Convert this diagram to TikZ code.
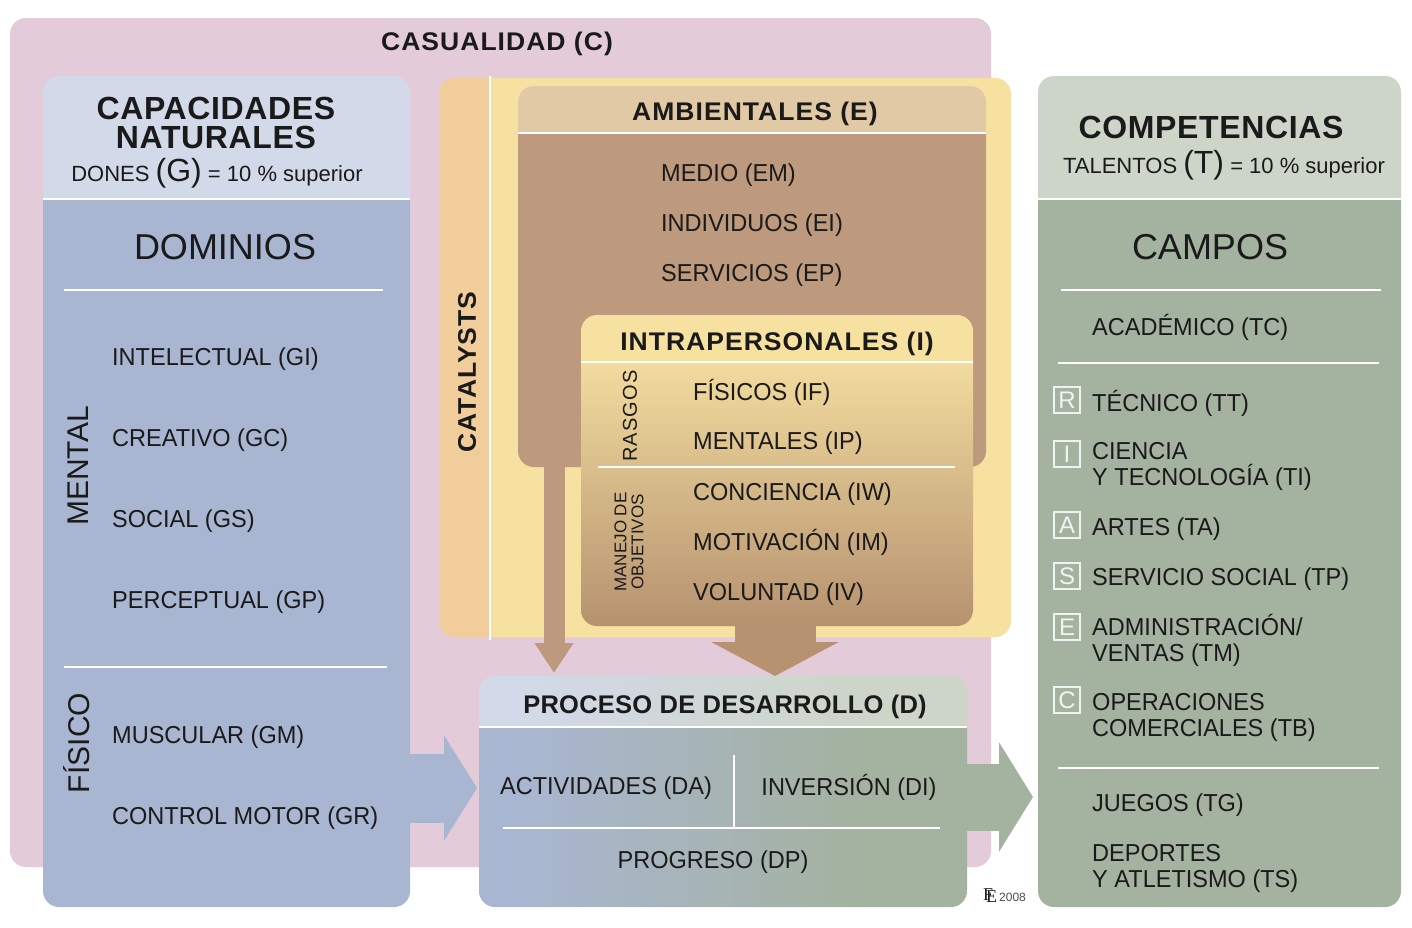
\documentclass[tikz,border=0pt]{standalone}
\usepackage{fontspec}
\setmainfont{Liberation Sans}
\newfontfamily\narrowfont[FakeStretch=0.96]{Liberation Sans}
\newfontfamily\markfont{Liberation Serif}
\usetikzlibrary{arrows.meta}
\definecolor{cpink}{RGB}{227,203,217}
\definecolor{cbluelt}{RGB}{210,217,233}
\definecolor{cblue}{RGB}{169,182,209}
\definecolor{cgreenlt}{RGB}{205,213,200}
\definecolor{cgreen}{RGB}{164,178,160}
\definecolor{cyellow}{RGB}{246,225,161}
\definecolor{corange}{RGB}{240,205,154}
\definecolor{ctanlt}{RGB}{226,201,166}
\definecolor{ctan}{RGB}{189,153,125}
\definecolor{ctandk}{RGB}{182,146,112}
\definecolor{cink}{RGB}{26,26,26}
\pgfdeclarehorizontalshading{prochead}{100bp}{color(0bp)=(cbluelt);color(29bp)=(cbluelt);color(64bp)=(cgreenlt);color(100bp)=(cgreenlt)}
\pgfdeclarehorizontalshading{procbody}{100bp}{color(0bp)=(cblue);color(29bp)=(cblue);color(64bp)=(cgreen);color(100bp)=(cgreen)}
\tikzset{
  panel/.style={rounded corners=16pt,minimum width=#1,inner sep=0pt,outer sep=0pt},
  rule/.style={draw=white,line width=2.8pt},
  headtext/.style={font=\fontsize{25.5}{26}\selectfont\bfseries\addfontfeatures{FakeStretch=1.04,LetterSpace=4},text=cink,inner sep=0pt},
  bigtext/.style={font=\fontsize{32}{29}\selectfont\bfseries\addfontfeatures{LetterSpace=2},text=cink,inner sep=0pt,align=center},
  titletext/.style={font=\fontsize{36}{36}\selectfont,text=cink,inner sep=0pt},
  subtext/.style={font=\fontsize{22}{24}\selectfont,text=cink,inner sep=0pt},
  item/.style={anchor=west,align=left,yshift=-2pt,font=\narrowfont\fontsize{24.5}{26}\selectfont,text=cink,inner sep=0pt},
  sideitem/.style={font=\fontsize{30}{30}\selectfont,text=cink,inner sep=0pt,rotate=90},
  letterbox/.style={draw=white!85!cgreen,line width=1.6pt,minimum size=26pt,inner sep=0pt,text=white!85!cgreen,font=\fontsize{24}{24}\selectfont},
  bigarrow/.style={line width=#1,line cap=butt}
}
\newcommand{\bigG}[1]{{\fontsize{32}{24}\selectfont #1}}
\begin{document}
\begin{tikzpicture}[x=1pt,y=-1pt]
\useasboundingbox (0,0) rectangle (1412,927);
% background
\node[panel=981pt,minimum height=849pt,fill=cpink] (casual) at (500.5,442.5) {};
\node[headtext] (casualtxt) at (497,43.5) {CASUALIDAD (C)};
% catalysts
\node[panel=572pt,minimum height=559pt] (catal) at (725,357.5) {};
\fill[cyellow,rounded corners=16pt] (490,78) -- (1011,78) -- (1011,637) -- (490,637);
\fill[corange,rounded corners=16pt] (490,78) -- (439,78) -- (439,637) -- (490,637);
\coordinate (catalN) at (490,76);
\coordinate (catalS) at (490,640);
\draw[rule] (catalN) -- (catalS);
\node[headtext,rotate=90] (catalbl) at (467,372) {CATALYSTS};
% ambientales
\node[panel=468pt,minimum height=381pt] (amb) at (752,276.5) {};
\fill[ctanlt,rounded corners=16pt] (518,133) -- (518,86) -- (986,86) -- (986,133);
\fill[ctan,rounded corners=16pt] (518,133) -- (518,467) -- (986,467) -- (986,133);
\draw[rule] (amb.west |- 0,133) -- (amb.east |- 0,133);
\node[headtext] (ambtxt) at (755,113.5) {AMBIENTALES (E)};
\node[item] (em) at (661,173) {MEDIO (EM)};
\node[item] (ei) at (661,223) {INDIVIDUOS (EI)};
\node[item] (ep) at (661,273) {SERVICIOS (EP)};
% process and arrows into it
\node[panel=488pt,minimum height=231pt] (proc) at (723,791.5) {};
\path[shading=prochead,rounded corners=16pt] (479,727) -- (479,676) -- (967,676) -- (967,727);
\path[shading=procbody,rounded corners=16pt] (479,727) -- (479,907) -- (967,907) -- (967,727);
\draw[rule] (proc.west |- 0,727) -- (proc.east |- 0,727);
\node[headtext,font=\fontsize{25.5}{26}\selectfont\bfseries\addfontfeatures{LetterSpace=1}] (proctxt) at (725,706.5) {PROCESO DE DESARROLLO (D)};
\node[item,anchor=center] (da) at (606,786) {ACTIVIDADES (DA)};
\node[item,anchor=center] (di) at (849,785) {INVERSIÓN (DI)};
\node[item,anchor=center] (dp) at (713,860) {PROGRESO (DP)};
\coordinate (procsplit) at (734,755);
\coordinate (procA) at (503,828);
\coordinate (procB) at (940,828);
\draw[rule] (procA) -- (procB);
\draw[rule] (procsplit) -- (procsplit |- procA);
% intrapersonales
\node[panel=392pt,minimum height=311pt] (intra) at (777,470.5) {};
\fill[cyellow,rounded corners=16pt] (581,362) -- (581,315) -- (973,315) -- (973,362);
\shade[top color=cyellow!92!ctan,bottom color=ctandk,rounded corners=16pt] (581,362) -- (581,626) -- (973,626) -- (973,362);
\draw[rule] (intra.west |- 0,362) -- (intra.east |- 0,362);
\coordinate (traitA) at (598,467);
\coordinate (traitB) at (955,467);
\draw[rule] (traitA) -- (traitB);
\node[headtext] (intratxt) at (777,343.5) {INTRAPERSONALES (I)};
\node[font=\fontsize{20}{20}\selectfont\addfontfeatures{LetterSpace=6},text=cink,inner sep=0pt,rotate=90] (rasgos) at (630,416) {RASGOS};
\node[font=\fontsize{17}{17}\selectfont,text=cink,inner sep=0pt,rotate=90,align=center] (manejo) at (629,542) {MANEJO DE\\OBJETIVOS};
\node[item] (if) at (693,390) {FÍSICOS (IF)};
\node[item] (ip) at (693,441) {MENTALES (IP)};
\node[item] (iw) at (693,492) {CONCIENCIA (IW)};
\node[item] (im) at (693,540) {MOTIVACIÓN (IM)};
\node[item] (iv) at (693,592) {VOLUNTAD (IV)};
\coordinate (ambdrop) at (554,467);
\draw[bigarrow=21pt,ctan,-{Triangle[length=30pt,width=37pt]},shorten >=3pt] (ambdrop) -- (ambdrop |- proc.north);
\draw[bigarrow=81pt,ctandk,-{Triangle[length=34pt,width=126pt]}] (intra.south -| 775,0) -- (proc.north -| 775,0);
% natural abilities
\node[panel=367pt,minimum height=831pt] (dones) at (226.5,491.5) {};
\fill[cbluelt,rounded corners=16pt] (43,198) -- (43,76) -- (410,76) -- (410,198);
\fill[cblue,rounded corners=16pt] (43,198) -- (43,907) -- (410,907) -- (410,198);
\draw[rule] (dones.west |- 0,199) -- (dones.east |- 0,199);
\node[bigtext] (donestxt) at (216,123) {CAPACIDADES\\NATURALES};
\node[subtext] (donessub) at (217,173) {DONES \bigG{(G)} = 10 \% superior};
\node[titletext] (dominios) at (225,247) {DOMINIOS};
\coordinate (domA) at (64,290);
\coordinate (domB) at (383,290);
\coordinate (fisA) at (64,667);
\coordinate (fisB) at (387,667);
\draw[rule] (domA) -- (domB);
\draw[rule] (fisA) -- (fisB);
\node[sideitem] (mental) at (78,466) {MENTAL};
\node[sideitem] (fisico) at (76.5,743) {FÍSICO};
\node[item] (gi) at (112,357) {INTELECTUAL (GI)};
\node[item] (gc) at (112,438) {CREATIVO (GC)};
\node[item] (gs) at (112,519) {SOCIAL (GS)};
\node[item] (gp) at (112,600) {PERCEPTUAL (GP)};
\node[item] (gm) at (112,735) {MUSCULAR (GM)};
\node[item] (gr) at (112,816) {CONTROL MOTOR (GR)};
% competencies
\node[panel=363pt,minimum height=831pt] (talent) at (1219.5,491.5) {};
\fill[cgreenlt,rounded corners=16pt] (1038,198) -- (1038,76) -- (1401,76) -- (1401,198);
\fill[cgreen,rounded corners=16pt] (1038,198) -- (1038,907) -- (1401,907) -- (1401,198);
\draw[rule] (talent.west |- 0,199) -- (talent.east |- 0,199);
\node[bigtext] (talenttxt) at (1211,127) {COMPETENCIAS};
\node[subtext] (talentsub) at (1224,165) {TALENTOS \bigG{(T)} = 10 \% superior};
\node[titletext] (campos) at (1210,247) {CAMPOS};
\coordinate (campA) at (1061,290);
\coordinate (campB) at (1381,290);
\coordinate (campC) at (1058,363);
\coordinate (campD) at (1379,363);
\coordinate (campE) at (1058,768);
\coordinate (campF) at (1379,768);
\draw[rule] (campA) -- (campB);
\draw[rule] (campC) -- (campD);
\draw[rule] (campE) -- (campF);
\node[item] (tc) at (1092,325) {ACADÉMICO (TC)};
\node[item] (tt) at (1092,401) {TÉCNICO (TT)};
\node[item] (ti) at (1092,464) {CIENCIA\\Y TECNOLOGÍA (TI)};
\node[item] (ta) at (1092,527) {ARTES (TA)};
\node[item] (tp) at (1092,577) {SERVICIO SOCIAL (TP)};
\node[item] (tm) at (1092,638.5) {ADMINISTRACIÓN/\\VENTAS (TM)};
\node[item] (tb) at (1092,715) {OPERACIONES\\COMERCIALES (TB)};
\node[item] (tg) at (1092,803) {JUEGOS (TG)};
\node[item] (ts) at (1092,866) {DEPORTES\\Y ATLETISMO (TS)};
\node[letterbox] (boxr) at (1067,400) {R};
\node[letterbox] (boxi) at (1067,454) {I};
\node[letterbox] (boxa) at (1067,525) {A};
\node[letterbox] (boxs) at (1067,576) {S};
\node[letterbox] (boxe) at (1067,627) {E};
\node[letterbox] (boxc) at (1067,700) {C};
% block arrows between columns
\coordinate (rowin) at (0,788);
\coordinate (rowout) at (0,797);
\draw[bigarrow=69pt,cblue,-{Triangle[length=33pt,width=104pt]},shorten >=2pt] (dones.east |- rowin) -- (proc.west |- rowin);
\draw[bigarrow=67pt,cgreen,-{Triangle[length=34pt,width=108pt]},shorten >=5pt] (proc.east |- rowout) -- (talent.west |- rowout);
% mark
\node[font=\fontsize{18}{18}\selectfont\markfont,inner sep=0pt,text=cink] (mark) at (990,896) {\rlap{\raisebox{2pt}{F}}\kern3pt E};
\node[font=\fontsize{12}{12}\selectfont,text=black!70,inner sep=0pt,anchor=west] (year) at (999,897) {2008};
\end{tikzpicture}
\end{document}
